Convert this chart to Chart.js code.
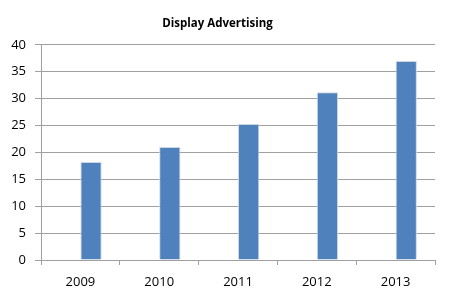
<!DOCTYPE html>
<html>
<head>
<meta charset="utf-8">
<script src="https://cdn.jsdelivr.net/npm/chart.js@4"></script>
<style>
  html, body { margin: 0; padding: 0; background: #fff; }
  #wrap { width: 450px; height: 300px; }
</style>
</head>
<body>
<div id="wrap"><canvas id="myChart" width="450" height="300"></canvas></div>
<script>
const years = ['2009', '2010', '2011', '2012', '2013'];
const spacerValues = [null, null, null, null, null];
const displayValues = [18.2, 21.0, 25.3, 31.2, 37.0];
const yTicks = [0, 5, 10, 15, 20, 25, 30, 35, 40];

const fontFamily = "'Open Sans', 'Liberation Sans', sans-serif";
const gridColor = '#a0a0a0';

const ctx = document.getElementById('myChart');

// first dataset is an empty spacer so the real bars sit right of each category centre
const chart = new Chart(ctx, {
    type: 'bar',
    data: {
        labels: years,
        datasets: [{
            label: '',
            data: spacerValues,
            backgroundColor: 'rgba(0,0,0,0)'
        }, {
            label: 'Display Advertising',
            data: displayValues,
            backgroundColor: '#4f81bd',
            borderColor: '#cdd6e4',
            borderWidth: { right: 1, top: 1, left: 1, bottom: 0 },
            borderSkipped: false
        }]
    },
    options: {
        responsive: false,
        animation: false,
        categoryPercentage: 0.54,
        barPercentage: 1.0,
        layout: {
            padding: { left: 0, right: 15, top: 0, bottom: 0 }
        },
        plugins: {
            legend: { display: false },
            tooltip: { enabled: false },
            title: {
                display: true,
                text: 'Display Advertising',
                color: '#000',
                font: { family: fontFamily, size: 11.5, weight: 'bold', lineHeight: 1.2 },
                padding: { top: 17, bottom: 14 }
            }
        },
        scales: {
            x: {
                grid: {
                    offset: true,
                    drawOnChartArea: false,
                    drawTicks: true,
                    tickLength: 5,
                    color: gridColor
                },
                border: { color: gridColor },
                ticks: {
                    color: '#000',
                    padding: 9,
                    font: { family: fontFamily, size: 13 }
                },
                afterFit: (scale) => { scale.height = 40; }
            },
            y: {
                min: 0,
                max: 40,
                afterBuildTicks: (scale) => {
                    scale.ticks = yTicks.map(v => ({ value: v }));
                },
                grid: {
                    color: gridColor,
                    tickLength: 6
                },
                border: { color: gridColor },
                ticks: {
                    color: '#000',
                    padding: 9,
                    font: { family: fontFamily, size: 13 }
                },
                afterFit: (scale) => { scale.width = 41; }
            }
        }
    }
});
</script>
</body>
</html>
